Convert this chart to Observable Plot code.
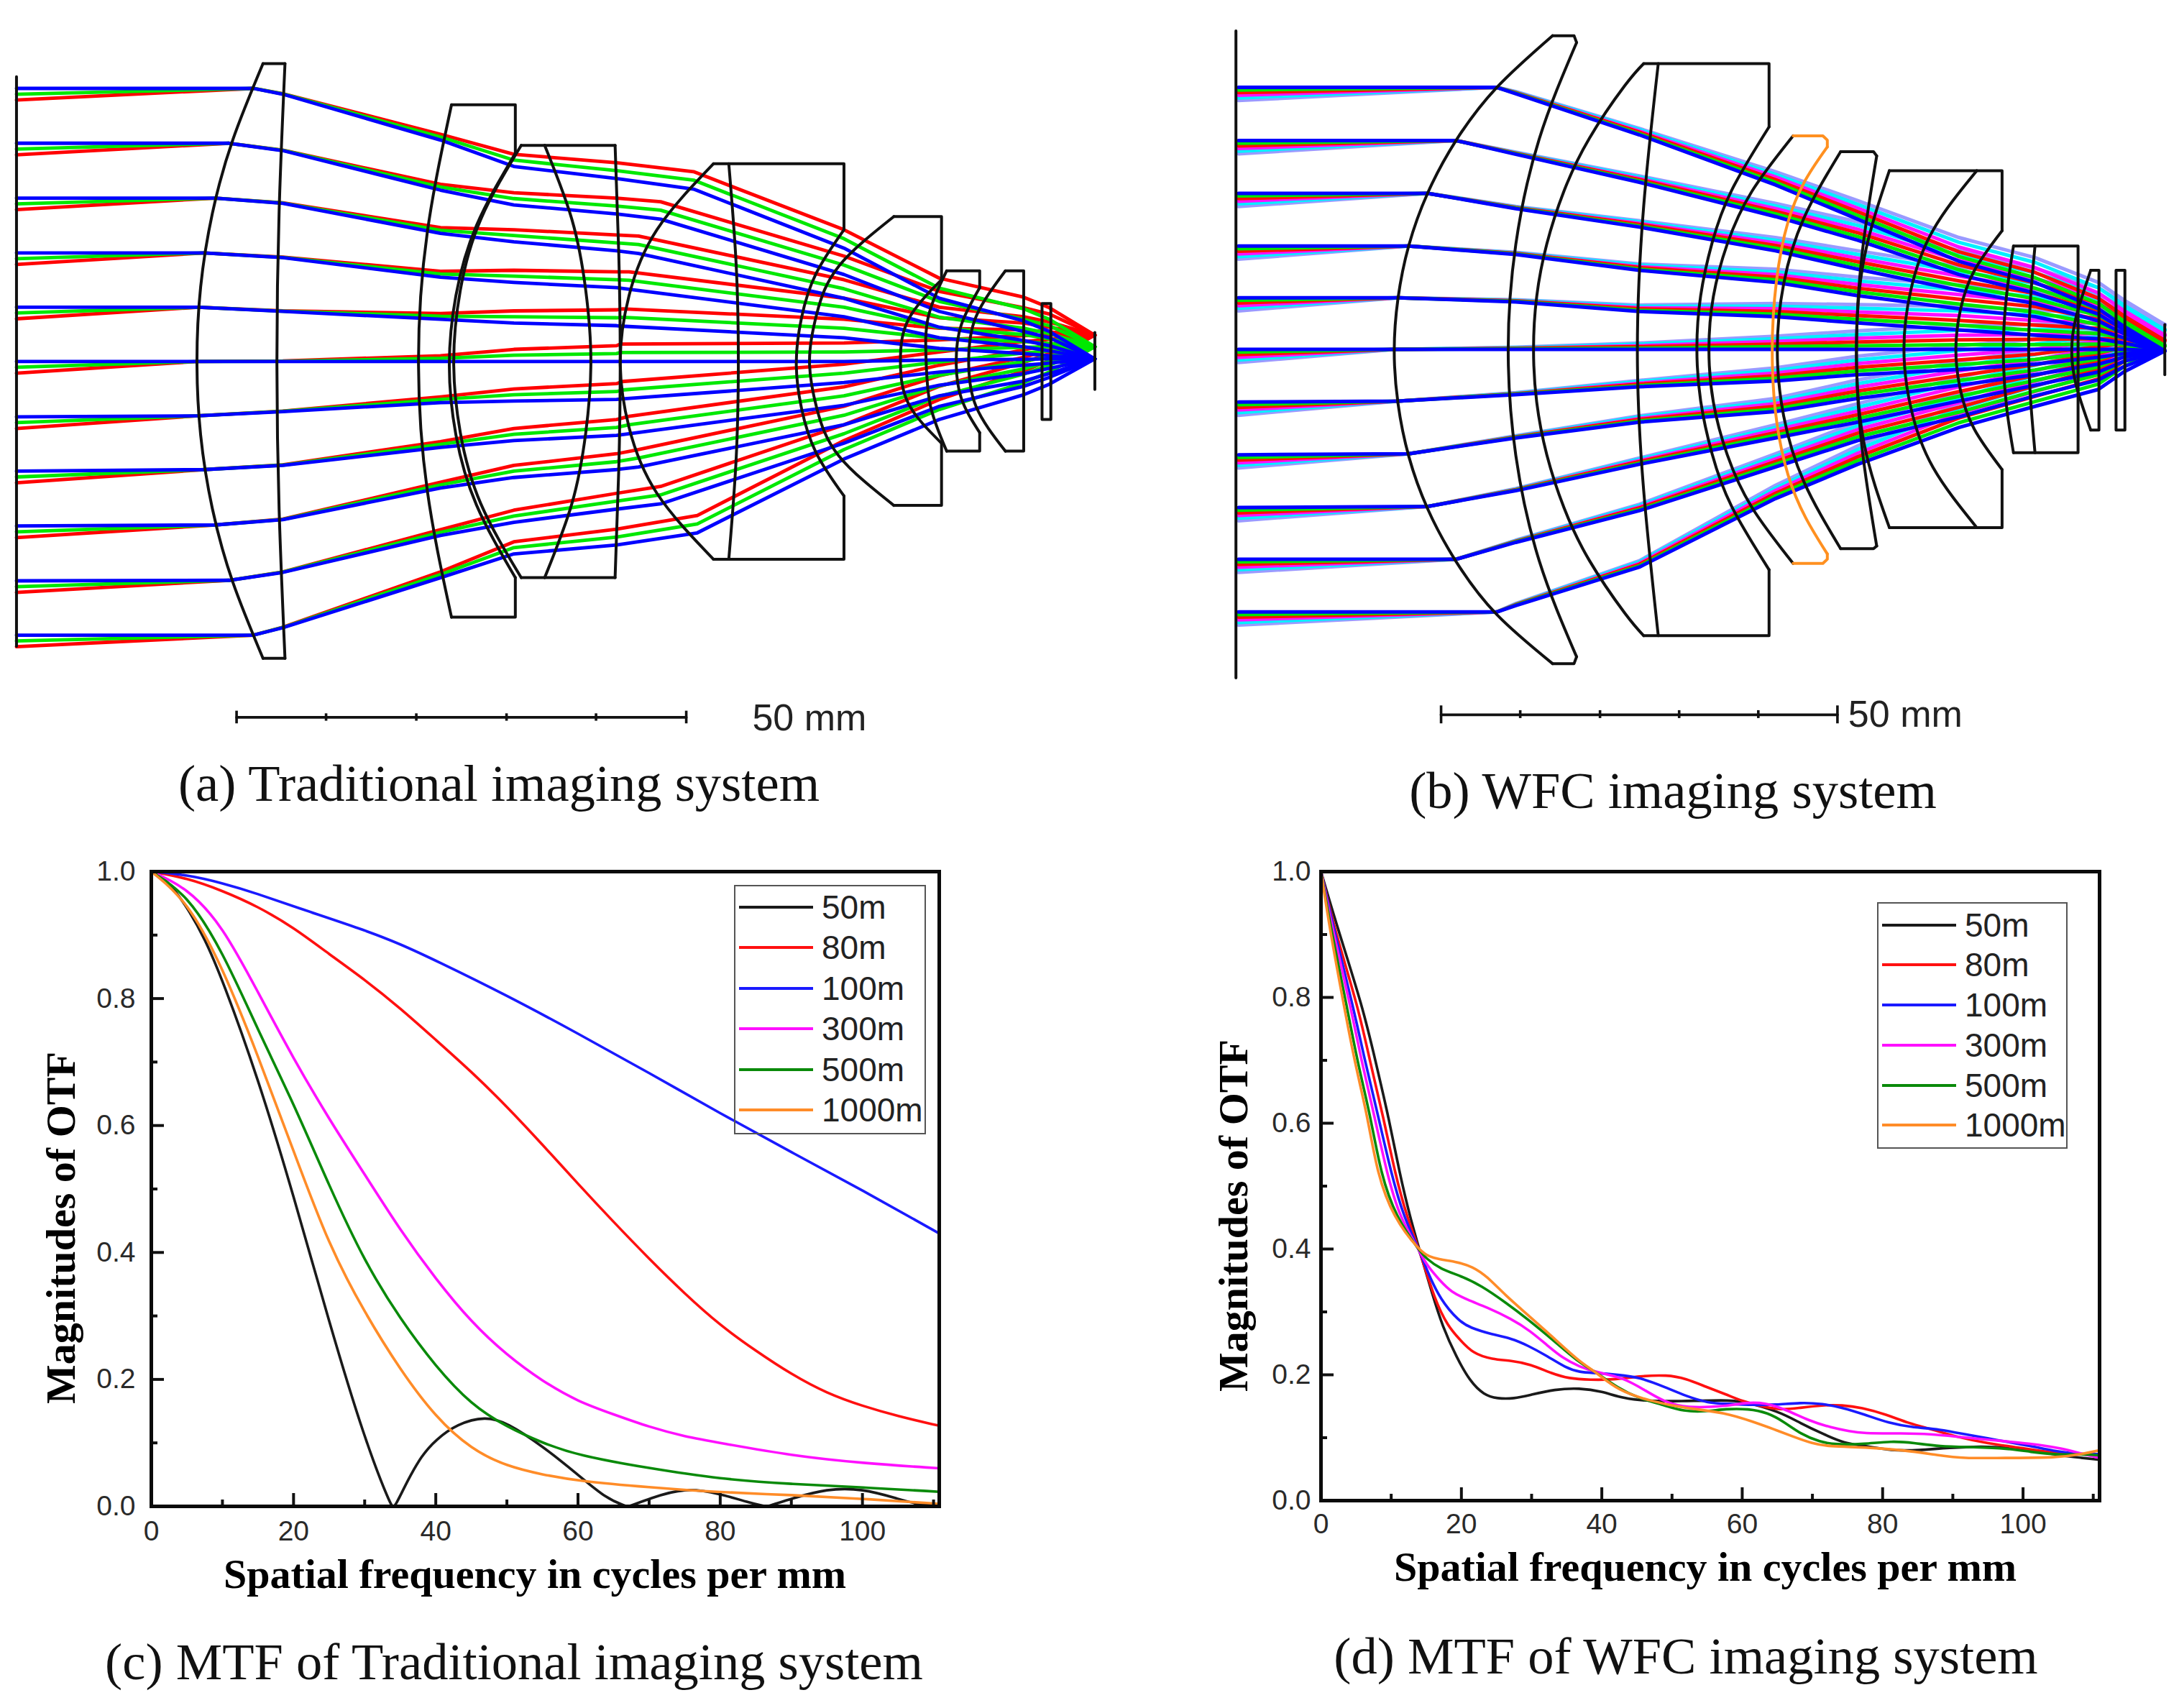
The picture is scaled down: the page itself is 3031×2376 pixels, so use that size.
<!DOCTYPE html>
<html>
<head>
<meta charset="utf-8">
<script src="https://cdn.jsdelivr.net/npm/d3@7"></script>
<script src="https://cdn.jsdelivr.net/npm/@observablehq/plot@0.6"></script>
<style>
  html,body{margin:0;padding:0;background:#fff;}
  #page{position:relative;width:3031px;height:2376px;background:#fff;overflow:hidden;}
  #page svg{position:absolute;background:transparent;}
  .cap{position:absolute;white-space:nowrap;font-family:"Liberation Serif",serif;color:#111;transform:translateX(-50%);line-height:1;}
  .axl{position:absolute;white-space:nowrap;font-family:"Liberation Serif",serif;font-weight:bold;color:#000;line-height:1;transform:translate(-50%,-50%);}
  .legend{position:absolute;box-sizing:border-box;border:2.5px solid #555;}
  .legend .row{position:absolute;left:0;display:flex;align-items:center;height:50px;transform:translateY(-50%);font-family:"Liberation Sans",Arial,sans-serif;font-size:46px;color:#222;}
  .legend .sw{display:block;height:4px;margin-left:5px;width:103px;margin-right:12px;}
</style>
</head>
<body>
<div id="page"></div>
<script>
// ---------- Panel (c) MTF of Traditional imaging system: [spatial frequency, magnitude]
const c50 = [[0,1],[2,.99],[5,.945],[7.5,.895],[10,.83],[15,.675],[20,.49],[25,.29],[30,.105],[33.7,0],[34,0],[34.3,0],[36,.04],[38,.08],[40,.105],[43,.13],[47,.142],[50,.132],[55,.095],[60,.05],[64,.012],[66.8,0],[67,0],[67.2,0],[70,.012],[75,.03],[80,.02],[84,.006],[86.3,0],[86.5,0],[86.7,0],[90,.012],[95,.028],[100,.028],[105,.012],[108,.002],[110.8,.002]];
const c80 = [[0,1],[5,.99],[10,.97],[15,.945],[20,.912],[25,.87],[30,.83],[35,.785],[40,.735],[45,.685],[50,.63],[55,.57],[60,.508],[65,.448],[70,.39],[75,.335],[80,.285],[85,.245],[90,.208],[95,.178],[100,.158],[105,.142],[110.8,.127]];
const c100 = [[0,1],[5,.995],[10,.982],[15,.965],[20,.945],[30,.908],[35,.886],[40,.86],[50,.805],[60,.745],[70,.683],[80,.619],[90,.558],[100,.498],[110.8,.43]];
const c300 = [[0,1],[5,.975],[10,.915],[15,.81],[20,.705],[25,.61],[30,.523],[35,.435],[40,.358],[45,.29],[50,.238],[55,.197],[60,.165],[65,.145],[70,.125],[75,.11],[80,.1],[90,.08],[100,.068],[110.8,.06]];
const c500 = [[0,1],[5,.965],[10,.875],[15,.75],[20,.635],[25,.505],[30,.385],[35,.295],[40,.22],[45,.16],[50,.125],[55,.1],[60,.08],[70,.06],[80,.043],[90,.035],[100,.03],[110.8,.023]];
const c1000 = [[0,1],[5,.955],[10,.85],[15,.71],[20,.56],[25,.41],[30,.305],[35,.215],[40,.14],[45,.09],[50,.063],[55,.05],[60,.04],[70,.03],[80,.022],[90,.018],[100,.012],[110.8,.004]];

// ---------- Panel (d) MTF of WFC imaging system
const d50 = [[0,1],[2.2,.916],[5.95,.785],[7.8,.697],[9.65,.609],[11.2,.52],[12.7,.45],[14.1,.396],[15.8,.33],[17.3,.277],[19.3,.228],[21.2,.19],[23.2,.168],[25.1,.162],[27.5,.162],[29.8,.168],[33.3,.177],[36.8,.179],[40,.174],[43.1,.162],[47,.158],[50.9,.158],[57.7,.16],[60,.158],[65.2,.142],[68.3,.123],[71.5,.106],[74.6,.091],[77,.088],[81.3,.079],[85.2,.08],[89.2,.084],[95,.087],[101,.081],[105,.072],[108.4,.068],[110.9,.065]];
const d80 = [[0,1],[2,.905],[5.3,.785],[7,.697],[8.9,.609],[10.55,.52],[12.26,.45],[14.1,.396],[16.2,.319],[18.1,.277],[19.7,.257],[21.6,.234],[24.4,.2245],[27.1,.2226],[29.8,.217],[32.9,.202],[35.3,.194],[38.4,.192],[41.5,.192],[45.4,.198],[49.3,.2],[52,.194],[54.8,.181],[57.7,.169],[60,.158],[62.7,.15],[65.6,.144],[67.9,.147],[71.5,.152],[74.2,.152],[77,.148],[80.5,.137],[83.7,.123],[86.8,.114],[91,.1],[95,.091],[99,.085],[104,.076],[108,.074],[110.9,.072]];
const d100 = [[0,1],[1.9,.905],[4.6,.785],[6.3,.697],[8.2,.609],[10,.52],[11.8,.45],[14.1,.396],[15,.368],[17,.319],[19.7,.285],[21.2,.275],[24.4,.264],[27.1,.258],[29.4,.247],[32.2,.23],[34.9,.211],[36.8,.204],[39.2,.203],[42.3,.2],[45.4,.196],[48.9,.181],[52,.166],[55.2,.155],[57.7,.154],[61.6,.152],[64.8,.152],[68.3,.156],[71.5,.154],[74.2,.148],[77.4,.137],[80.9,.123],[84.4,.116],[88,.114],[92.3,.104],[97,.095],[101,.087],[105,.0775],[108,.074],[110.9,.074]];
const d300 = [[0,1],[1.7,.905],[4.24,.785],[5.8,.697],[7.66,.609],[9.4,.52],[11.2,.45],[14.1,.396],[15,.375],[17,.349],[18.5,.332],[20.9,.319],[23.6,.3075],[27.1,.289],[29.8,.27],[32.2,.247],[34.5,.226],[36.8,.213],[39.2,.204],[43,.196],[46.2,.175],[48.9,.157],[52,.147],[57.7,.15],[60.5,.156],[63.2,.156],[66.4,.144],[69.5,.127],[72.7,.116],[75.4,.11],[77,.107],[82.9,.107],[86.8,.106],[90.3,.102],[95,.0966],[101,.091],[105.7,.083],[108.4,.074],[110.9,.068]];
const d500 = [[0,1],[1.5,.905],[3.7,.785],[5.2,.697],[7.1,.609],[8.5,.52],[10.7,.45],[14.1,.396],[15,.385],[17,.368],[20,.357],[22.8,.342],[26.3,.315],[29.4,.289],[33.3,.253],[36.8,.219],[39.2,.204],[42.3,.179],[45.4,.162],[48.5,.153],[51.7,.1415],[54.8,.1415],[57.7,.146],[60.9,.146],[63.6,.14],[66,.125],[68.3,.106],[71.1,.093],[73.4,.089],[77.4,.09],[81.3,.0947],[84.4,.092],[88,.086],[93,.085],[97.8,.083],[101,.0775],[105,.0725],[108.4,.074],[110.9,.072]];
const d1000 = [[0,1],[1.3,.905],[3.3,.785],[4.8,.697],[6.67,.609],[8,.52],[10.3,.45],[14.1,.396],[15.8,.385],[19.3,.38],[21.6,.372],[23.6,.357],[26.3,.326],[29.4,.296],[33.3,.257],[36.8,.221],[39.2,.204],[42.3,.175],[47,.158],[51.7,.147],[57.7,.14],[61.6,.125],[64.4,.114],[67.2,.102],[69.9,.091],[72.3,.086],[77.4,.085],[82.9,.0805],[88,.072],[91.5,.067],[97,.068],[105,.068],[108.4,.074],[110.9,.08]];

const seriesNames = ["50m","80m","100m","300m","500m","1000m"];
const seriesColors = ["#1a1a1a","#ff1010","#1a1aff","#ff10ff","#0a8a0a","#ff8c28"];
const majorX = [0,20,40,60,80,100];
const minorX = [10,30,50,70,90,110];
const majorY = [0,.2,.4,.6,.8,1];
const minorY = [.1,.3,.5,.7,.9];

// ---------- Panel (a) ray bundles, values in a 1568-unit picture grid
const aFirstSurface = [345,312,293,278,270,268,270,278,293,312,345];
const aFourthSurface = [945,900,870,857,848,845,848,857,870,900,950];
const aStations = [22,aFirstSurface,385,600,700,840,aFourthSurface,1150,1280,1395,1430,1492];
const aBlue = [
 [167,167,178,265,315,338,358,470,565,608,628,680],
 [271,271,285,360,388,405,415,520,590,628,640,680],
 [375,375,385,442,458,475,480,565,620,645,655,680],
 [479,479,488,525,535,545,548,600,640,657,665,680],
 [582,582,590,605,612,617,618,640,660,670,674,680],
 [685,685,685,685,685,685,685,685,682,681,680,680],
 [790,788,780,763,760,757,756,725,705,692,688,680],
 [893,890,882,848,835,825,822,768,730,708,698,680],
 [997,995,985,925,905,890,885,805,750,722,708,680],
 [1101,1100,1085,1015,990,965,955,840,770,732,715,680],
 [1204,1204,1190,1095,1050,1033,1010,870,795,748,728,680]
];
const aBlueOffset = [0,0,0,0,0,0,0,0,0,0,0,0];
const aGreenOffset = [11,0,-.5,-6,-12,-15,-17,-18,-19,-23,-23,-23];
const aRedOffset = [22,0,-1,-11,-23,-30,-33,-35,-38,-45,-45,-45];
const aArcs = [
 [[358,120],[317,264],[289,404],[273,544],[268,684],[273,824],[289,964],[317,1104],[358,1248]],
 [[388,120],[380,400],[377,684],[380,966],[388,1248]],
 [[615,198],[582,440],[570,684],[582,930],[615,1170]],
 [[702,290],[649,427],[621,560],[612,692],[621,824],[649,957],[702,1095]],
 [[710,275],[655,415],[627,550],[618,685],[627,820],[655,955],[710,1095]],
 [[742,275],[779,415],[798,550],[805,685],[798,820],[779,955],[742,1095]],
 [[838,275],[843,480],[845,684],[843,890],[838,1095]],
 [[972,310],[895,435],[857,560],[845,685],[857,810],[895,935],[972,1060]],
 [[993,310],[1003,500],[1006,684],[1003,870],[993,1060]],
 [[1150,435],[1112,518],[1092,603],[1085,688],[1092,773],[1112,858],[1150,940]],
 [[1218,410],[1143,504],[1113,594],[1103,684],[1113,774],[1143,864],[1218,958]],
 [[1283,530],[1238,605],[1227,684],[1238,765],[1283,840]],
 [[1290,513],[1265,600],[1262,684],[1268,770],[1290,855]],
 [[1335,545],[1310,615],[1303,684],[1310,755],[1335,820]],
 [[1370,513],[1330,600],[1320,684],[1330,770],[1370,855]]
];
const aEdges = [
 [[22,145],[22,1225]],
 [[358,120],[388,120]],[[358,1248],[388,1248]],
 [[615,198],[702,198],[702,290]],[[615,1170],[702,1170],[702,1095]],
 [[710,275],[838,275]],[[710,1095],[838,1095]],
 [[972,310],[1150,310],[1150,435]],[[972,1060],[1150,1060],[1150,940]],
 [[1218,410],[1283,410],[1283,530]],[[1218,958],[1283,958],[1283,840]],
 [[1290,513],[1335,513],[1335,545]],[[1290,855],[1335,855],[1335,820]],
 [[1370,513],[1395,513],[1395,855],[1370,855]],
 [[1420,575],[1432,575],[1432,795],[1420,795],[1420,575]],
 [[1492,630],[1492,738]]
];
const aBar = [[322,1360],[935,1360]];
const aBarTicks = [[322,1348,1372],[444,1353,1367],[567,1353,1367],[690,1353,1367],[812,1353,1367],[935,1348,1372]];

// ---------- Panel (b) ray bundles
const bFirstSurface = [490,426,381,351,334,328,334,351,381,426,490];
const bStations = [82,bFirstSurface,520,715,930,1060,1220,1340,1440,1480,1545];
const bBlue = [
 [165,165,177,255,350,415,495,535,585,618,665],
 [266,266,292,345,410,455,520,555,595,625,665],
 [366,366,395,430,475,510,550,575,608,632,665],
 [466,466,482,512,535,560,585,600,625,640,665],
 [564,564,572,590,600,612,625,635,642,650,665],
 [662,662,662,662,662,662,662,662,662,662,665],
 [762,760,748,733,722,710,700,690,677,670,665],
 [862,860,830,800,780,755,730,710,690,677,665],
 [962,960,930,880,830,800,760,730,705,685,665],
 [1060,1060,1028,968,885,835,790,750,720,695,665],
 [1160,1160,1148,1075,945,880,810,770,738,705,665]
];
const bColors = ["#9a9aff","#00f0ff","#ff10ff","#ff1000","#00e800","#0000ff"];
const bOffsets = [
 [25,0,-4,-12,-25,-35,-45,-47,-50,-50,-50],
 [20,0,-3,-10,-20,-28,-36,-38,-40,-40,-40],
 [15,0,-2,-7,-15,-21,-27,-28,-30,-30,-30],
 [10,0,-2,-5,-10,-14,-18,-19,-20,-20,-20],
 [5,0,-1,-2,-5,-7,-9,-9,-10,-10,-10],
 [0,0,0,0,0,0,0,0,0,0,0]
];
const bArcs = [
 [[578,67],[490,165],[426,265],[381,365],[351,465],[334,565],[328,665],[334,765],[351,865],[381,965],[426,1065],[490,1165],[578,1258]],
 [[616,80],[557,263],[520,463],[508,663],[520,863],[557,1063],[616,1245]],
 [[722,120],[692,162],[636,262],[596,362],[569,462],[553,562],[548,662],[553,762],[569,862],[596,962],[636,1062],[692,1162],[722,1205]],
 [[745,120],[722,390],[712,665],[722,930],[745,1205]],
 [[920,240],[861,360],[830,460],[812,560],[806,660],[812,760],[830,860],[861,960],[920,1080]],
 [[958,257],[893,362],[854,462],[832,562],[825,662],[832,762],[854,862],[893,962],[958,1068]],
 [[1033,287],[975,413],[943,538],[933,663],[943,788],[975,913],[1033,1040]],
 [[1090,295],[1067,480],[1058,665],[1067,850],[1090,1035]],
 [[1110,323],[1070,490],[1058,665],[1070,840],[1110,1000]],
 [[1248,323],[1179,436],[1144,549],[1133,661],[1144,773],[1179,886],[1248,1000]],
 [[1288,437],[1244,513],[1222,588],[1215,663],[1222,738],[1244,813],[1288,890]],
 [[1306,466],[1295,560],[1290,665],[1295,770],[1306,858]],
 [[1340,466],[1330,660],[1340,858]],
 [[1428,512],[1405,600],[1398,665],[1405,730],[1428,815]]
];
const bEdges = [
 [[78,58],[78,1285]],
 [[578,67],[612,67],[616,80]],[[578,1258],[612,1258],[616,1245]],
 [[722,120],[920,120],[920,240]],[[722,1205],[920,1205],[920,1080]],
 [[1033,287],[1085,287],[1090,295]],[[1090,1035],[1085,1040],[1033,1040]],
 [[1110,323],[1288,323],[1288,437]],[[1110,1000],[1288,1000],[1288,890]],
 [[1306,466],[1408,466],[1408,858],[1306,858]],
 [[1428,512],[1441,512],[1441,815],[1428,815]],
 [[1468,512],[1482,512],[1482,815],[1468,815],[1468,512]],
 [[1545,615],[1545,710]]
];
const bOrangeArc = [[1012,278],[950,420],[925,665],[950,900],[1012,1050]];
const bOrangeEdges = [
 [[958,257],[1005,257],[1012,265],[1012,278]],
 [[1012,1050],[1012,1060],[1005,1068],[958,1068]]
];
const bBar = [[402,1355],[1028,1355]];
const bBarTicks = [[402,1338,1372],[527,1347,1362],[653,1347,1362],[778,1347,1362],[903,1347,1362],[1028,1338,1372]];

// ---------- Text
const captions = ["(a) Traditional imaging system","(b) WFC imaging system","(c) MTF of Traditional imaging system","(d) MTF of WFC imaging system"];
const xTitle = "Spatial frequency in cycles per mm";
const yTitle = "Magnitudes of OTF";
const scaleText = "50 mm";

// ---------- Helpers
const page = document.getElementById("page");
const flat = paths => paths.flatMap((p,i)=>p.map(([x,y])=>({id:i,x,y})));
const place = (svg,left,top)=>{svg.style.left=left+"px";svg.style.top=top+"px";page.appendChild(svg);};

function rays(blue, stations, offset){
  return blue.flatMap((row,i)=>row.map((v,j)=>({id:i,x:Array.isArray(stations[j])?stations[j][i]:stations[j],y:v+offset[j]})));
}

function lensPlot({width,height,bundles,strokeW,arcs,edges,bar,ticks,label,orange=null}){
  const lineW = 4;
  return Plot.plot({
    width,height,margin:0,
    x:{domain:[0,1568],range:[0,width],axis:null},
    y:{domain:[0,1568],range:[0,height],axis:null},
    style:{background:"transparent"},
    marks:[
      ...bundles.map(b=>Plot.line(b.data,{x:"x",y:"y",z:"id",stroke:b.color,strokeWidth:strokeW,curve:"linear",strokeLinejoin:"round"})),
      Plot.line(flat(arcs),{x:"x",y:"y",z:"id",stroke:"#111",strokeWidth:lineW,curve:"natural"}),
      Plot.line(flat(edges),{x:"x",y:"y",z:"id",stroke:"#111",strokeWidth:lineW,curve:"linear"}),
      ...(orange?[
        Plot.line(orange.arc,{x:d=>d[0],y:d=>d[1],stroke:"#ff9020",strokeWidth:lineW,curve:"natural"}),
        Plot.line(flat(orange.edges),{x:"x",y:"y",z:"id",stroke:"#ff9020",strokeWidth:lineW})
      ]:[]),
      Plot.line(bar,{x:d=>d[0],y:d=>d[1],stroke:"#111",strokeWidth:3.8}),
      Plot.ruleX(ticks,{x:d=>d[0],y1:d=>d[1],y2:d=>d[2],stroke:"#111",strokeWidth:3.6}),
      Plot.text([label],{x:label.x,y:label.y,text:d=>d.text,textAnchor:"start",fontSize:52,fontFamily:"Liberation Sans",fill:"#222"})
    ]
  });
}

function mtfPlot({width,height,mL,mT,mR,mB,xMax,series,padX,padY}){
  const font = {fontSize:39,fontFamily:"Liberation Sans",fill:"#2a2a2a"};
  const tick = {fill:"none",stroke:"#111",strokeWidth:4};
  return Plot.plot({
    width,height,marginLeft:mL,marginTop:mT,marginRight:mR,marginBottom:mB,
    x:{domain:[0,xMax],axis:null},
    y:{domain:[0,1],axis:null},
    style:{background:"transparent"},
    marks:[
      ...series.map((s,i)=>Plot.line(s,{x:d=>d[0],y:d=>d[1],stroke:seriesColors[i],strokeWidth:3.6,curve:"basis"})),
      Plot.axisX({ticks:majorX,tickSize:-18,tickPadding:0,...tick,label:null,anchor:"bottom"}),
      Plot.axisX({ticks:minorX,tickSize:-9,tickPadding:0,...tick,label:null,anchor:"bottom"}),
      Plot.axisY({ticks:majorY,tickSize:-18,tickPadding:0,...tick,label:null,anchor:"left"}),
      Plot.axisY({ticks:minorY,tickSize:-9,tickPadding:0,...tick,label:null,anchor:"left"}),
      Plot.axisX({ticks:majorX,tickSize:0,tickPadding:padX,stroke:"none",...font,label:null,anchor:"bottom",tickFormat:d=>String(d)}),
      Plot.axisY({ticks:majorY,tickSize:0,tickPadding:padY,stroke:"none",...font,label:null,anchor:"left",tickFormat:d=>d.toFixed(1)}),
      Plot.frame({stroke:"#0a0a0a",strokeWidth:5})
    ]
  });
}

function addCaption(text,cx,top,size){
  const el=document.createElement("div");el.className="cap";el.textContent=text;
  el.style.left=cx+"px";el.style.top=top+"px";el.style.fontSize=size+"px";page.appendChild(el);
}
function addAxisTitle(text,cx,cy,size,vertical){
  const el=document.createElement("div");el.className="axl";el.textContent=text;
  el.style.left=cx+"px";el.style.top=cy+"px";el.style.fontSize=size+"px";
  if(vertical) el.style.transform="translate(-50%,-50%) rotate(-90deg)";
  page.appendChild(el);
}
function addLegend(left,top,w,h,rows){
  const box=document.createElement("div");box.className="legend";
  box.style.cssText=`left:${left}px;top:${top}px;width:${w}px;height:${h}px;`;
  seriesNames.forEach((n,i)=>{
    const r=document.createElement("div");r.className="row";r.style.top=(rows[i]-top-2.5)+"px";
    const s=document.createElement("span");s.className="sw";s.style.background=seriesColors[i];
    const t=document.createElement("span");t.textContent=n;
    r.append(s,t);box.appendChild(r);
  });
  page.appendChild(box);
}

// ---------- Panels
place(lensPlot({width:1600,height:1150,strokeW:4.8,
  bundles:[
    {color:"#ff0000",data:rays(aBlue,aStations,aRedOffset)},
    {color:"#00e800",data:rays(aBlue,aStations,aGreenOffset)},
    {color:"#0000ff",data:rays(aBlue,aStations,aBlueOffset)}
  ],
  arcs:aArcs,edges:aEdges,bar:aBar,ticks:aBarTicks,label:{x:1025,y:1362,text:scaleText}}),0,0);

place(lensPlot({width:1381,height:1150,strokeW:5,
  bundles:bColors.map((c,i)=>({color:c,data:rays(bBlue,bStations,bOffsets[i])})),
  orange:{arc:bOrangeArc,edges:bOrangeEdges},
  arcs:bArcs,edges:bEdges,bar:bBar,ticks:bBarTicks,label:{x:1045,y:1355,text:scaleText}}),1650,0);

place(mtfPlot({width:1240,height:1000,mL:110,mT:32,mR:34,mB:85,xMax:110.8,padX:20,padY:22,
  series:[c50,c80,c100,c300,c500,c1000]}),100,1180);
place(mtfPlot({width:1234,height:1000,mL:117,mT:32,mR:34,mB:93,xMax:110.9,padX:18,padY:14,
  series:[d50,d80,d100,d300,d500,d1000]}),1720,1180);

addLegend(1021,1231,267,347,[1262,1318,1375,1431,1488,1544]);
addLegend(2611,1255,265,343,[1287,1342,1398,1454,1510,1565]);

addAxisTitle(xTitle,744,2190,58,false);
addAxisTitle(yTitle,85,1708,58,true);
addAxisTitle(xTitle,2372,2180,58,false);
addAxisTitle(yTitle,1716,1691,58,true);

addCaption(captions[0],694,1054,72.5);
addCaption(captions[1],2327,1064,72.5);
addCaption(captions[2],715,2276,72.5);
addCaption(captions[3],2345,2268,72.5);
</script>
</body>
</html>
